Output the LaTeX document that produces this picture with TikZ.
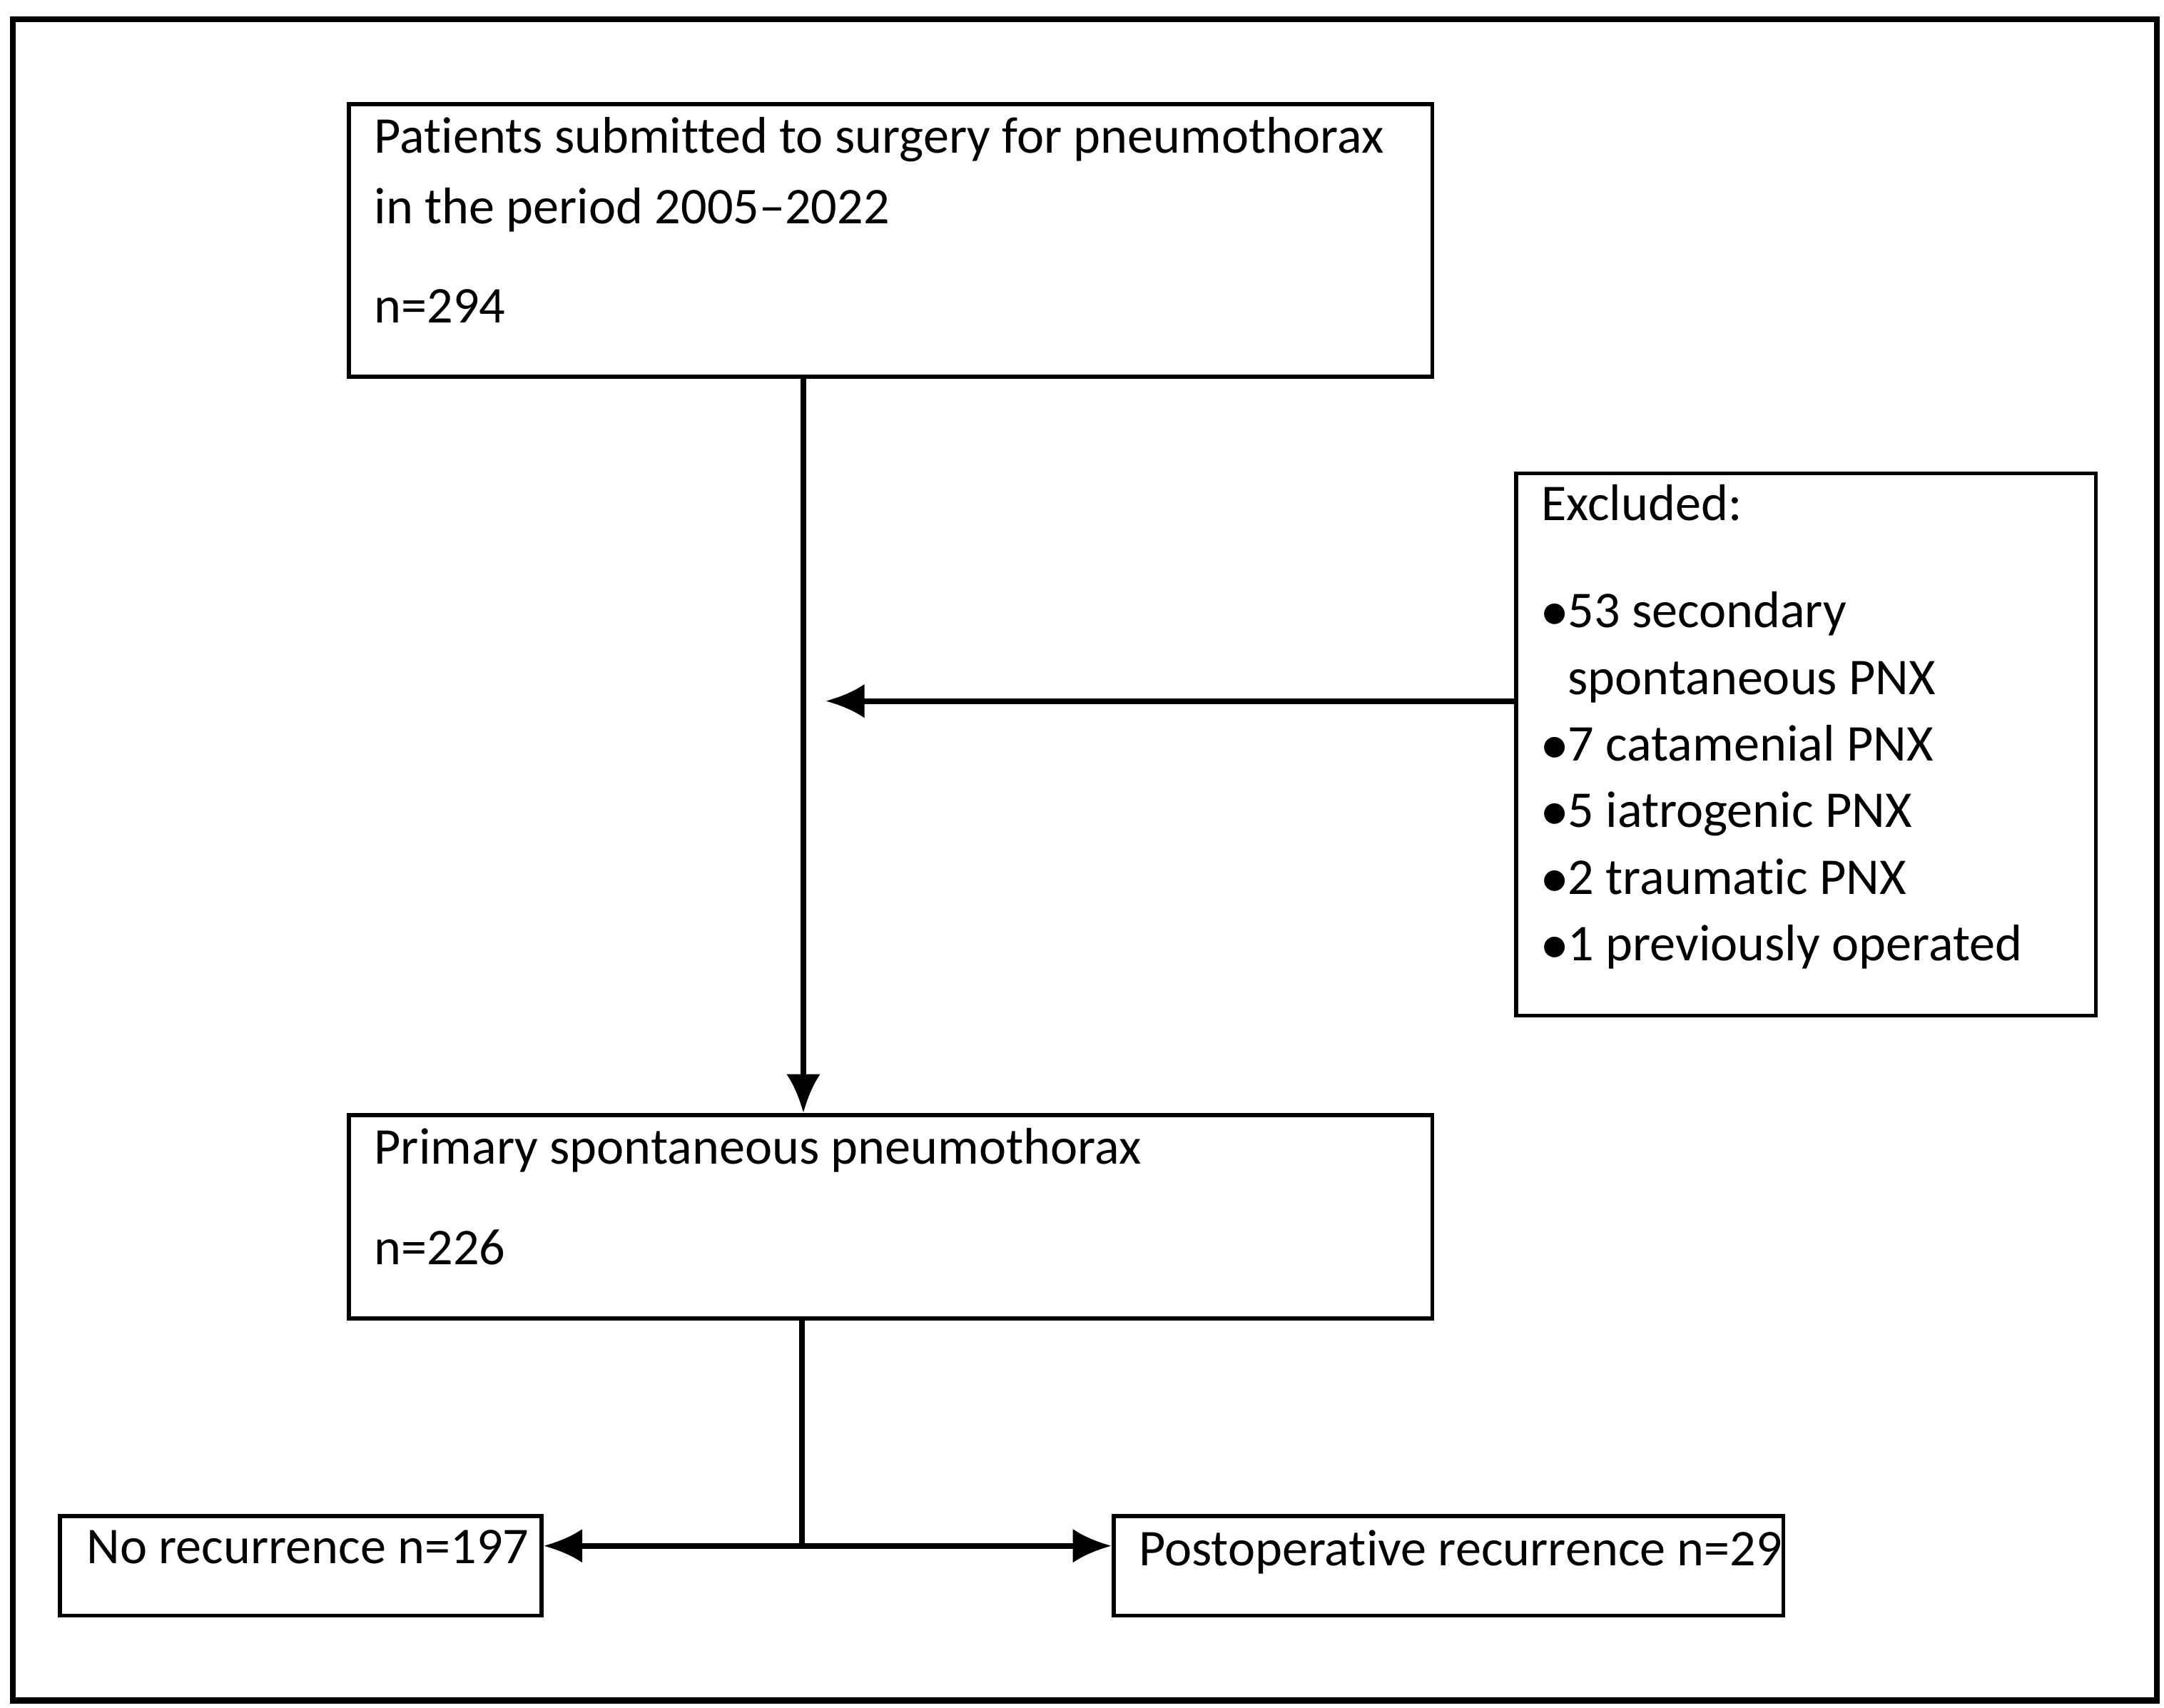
\documentclass[tikz,border=0pt]{standalone}
\usepackage{fontspec}
\setmainfont{Carlito}[Ligatures={NoCommon,TeX}]
\usetikzlibrary{positioning}
\tikzset{
  box/.style={draw, line width=0.8pt, inner sep=0pt, anchor=north west},
  txt/.style={anchor=north west, align=left, inner sep=0pt, font=\fontsize{10.6}{13}\selectfont},
  flow/.style={line width=1.2pt, -{Latex[length=8pt,width=7pt]}}
}
\usetikzlibrary{arrows.meta}
\begin{document}
\begin{tikzpicture}[x=0.01cm,y=-0.01cm]
                \useasboundingbox (0,0) rectangle (1565,1235);
                \node[box, line width=1.2pt, minimum width=15.5cm, minimum height=12.15cm] (frame) at (7,12) {};

                \node[box, minimum width=7.83cm, minimum height=1.97cm] (total) at (251,74) {};
                \node[txt] (totaltxt) at (270,84) {Patients submitted to surgery for pneumothorax\\[1.5pt]in the period 2005--2022\\[7.5pt]n=294};

                \node[box, minimum width=4.19cm, minimum height=3.92cm] (excl) at (1095,341) {};
                \node[txt] (excltxt) at (1114,350) {Excluded:\\[9pt]%
                  $\bullet$53 secondary\\[0.7pt]\hphantom{$\bullet$}spontaneous PNX\\[0.7pt]$\bullet$7 catamenial PNX\\[0.7pt]%
                  $\bullet$5 iatrogenic PNX\\[0.7pt]$\bullet$2 traumatic PNX\\[0.7pt]$\bullet$1 previously operated};

                \node[box, minimum width=7.83cm, minimum height=1.47cm] (primary) at (251,805) {};
                \node[txt] (primarytxt) at (270,815) {Primary spontaneous pneumothorax\\[7.7pt]n=226};

                \node[box, minimum width=3.48cm, minimum height=0.72cm] (norec) at (42,1095) {};
                \node[txt] (norectxt) at (62,1106) {No recurrence n=197};
                \node[box, minimum width=4.84cm, minimum height=0.72cm] (postop) at (804,1095) {};
                \node[txt] (postoptxt) at (823,1106) {Postoperative recurrence n=29};

                \coordinate (exclend) at (597,507);
                \coordinate (split) at (580,1118);

                \draw[flow] (total.south -| 581,0) -- (primary.north -| 581,0);
                \draw[flow] (excl.west |- exclend) -- (exclend);
                \draw[line width=1.2pt] (primary.south -| split) -- (split);
                \draw[flow] (split) -- (norec.east |- split);
                \draw[flow] (split) -- (postop.west |- split);
            \end{tikzpicture}
\end{document}
